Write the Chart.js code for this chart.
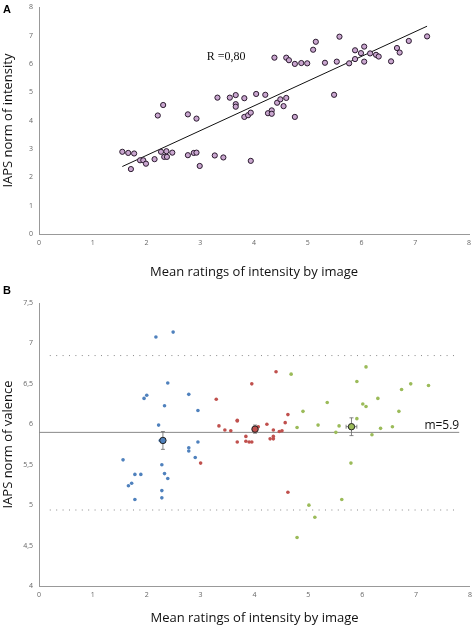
<!DOCTYPE html>
<html><head><meta charset="utf-8">
<script src="https://cdn.jsdelivr.net/npm/chart.js@4"></script>
<style>
html,body{margin:0;padding:0;background:#fff;width:474px;height:626px;overflow:hidden;font-family:"Open Sans",sans-serif}
#wa{position:absolute;left:0;top:0;width:474px;height:280px}
#wb{position:absolute;left:0;top:280px;width:474px;height:346px}
.lab{position:absolute;font:bold 11px "Liberation Sans",Arial,sans-serif;color:#000}
</style></head><body>
<div id="wa"><canvas id="ca"></canvas></div>
<div id="wb"><canvas id="cb"></canvas></div>
<div class="lab" style="left:3px;top:3px">A</div>
<div class="lab" style="left:3px;top:284px">B</div>
<script>
// ---- Panel A data ----
const aX=[1.55,1.66,1.71,1.77,1.88,1.94,1.99,2.15,2.21,2.27,2.31,2.33,2.37,2.38,2.48,2.77,2.77,2.88,2.93,2.93,2.99,3.27,3.32,3.43,3.55,3.66,3.66,3.66,3.82,3.82,3.89,3.94,3.94,4.04,4.21,4.26,4.33,4.33,4.38,4.43,4.49,4.55,4.6,4.6,4.65,4.76,4.76,4.88,4.99,5.1,5.15,5.32,5.49,5.54,5.59,5.77,5.88,5.88,5.99,6.05,6.05,6.16,6.27,6.32,6.55,6.66,6.71,6.88,7.22];
const aY=[2.9,2.86,2.29,2.84,2.6,2.6,2.48,2.64,4.18,2.9,4.55,2.72,2.92,2.72,2.87,4.22,2.78,2.86,2.87,4.07,2.4,2.77,4.81,2.7,4.81,4.9,4.58,4.49,4.79,4.13,4.19,2.58,4.28,4.94,4.91,4.26,4.36,4.24,6.22,4.63,4.75,4.51,6.22,4.8,6.13,6.0,4.13,6.03,6.02,6.5,6.78,6.04,4.91,6.08,6.96,6.02,6.17,6.48,6.38,6.61,6.08,6.37,6.32,6.26,6.09,6.56,6.4,6.81,6.97];
const trendX=[1.55,7.22];
const trendY=[2.38,7.33];
const aTicks=[0,1,2,3,4,5,6,7,8];
const rLabel="R =0,80";
// ---- Panel B data ----
const blueX=[1.56,1.66,1.72,1.78,1.78,1.89,1.95,2.0,2.17,2.22,2.25,2.28,2.28,2.28,2.33,2.33,2.39,2.39,2.49,2.78,2.78,2.78,2.9,2.95,2.95];
const blueY=[5.56,5.24,5.27,5.38,5.07,5.38,6.32,6.36,7.08,5.99,5.8,5.5,5.18,5.09,6.23,5.39,6.51,5.33,7.14,6.37,5.71,5.67,5.59,6.17,5.78];
const redX=[3.0,3.29,3.34,3.45,3.56,3.68,3.68,3.68,3.84,3.84,3.9,3.95,3.95,4.01,4.07,4.23,4.29,4.35,4.35,4.35,4.4,4.46,4.51,4.57,4.62,4.62];
const redY=[5.52,6.31,5.98,5.93,5.92,6.05,6.04,5.78,5.85,5.79,5.78,6.5,5.78,5.96,5.97,6.0,5.82,5.93,5.85,5.82,6.65,5.91,5.92,6.02,6.12,5.16];
const greenX=[4.68,4.79,4.79,4.9,5.01,5.12,5.18,5.35,5.51,5.57,5.62,5.79,5.9,5.9,6.01,6.07,6.07,6.18,6.29,6.34,6.56,6.68,6.73,6.9,7.23];
const greenY=[6.62,5.96,4.6,6.16,5.0,4.85,5.99,6.27,5.9,5.98,5.07,5.52,6.53,6.07,6.25,6.71,6.22,5.87,6.32,5.95,5.97,6.16,6.43,6.5,6.48];
const meanX=[2.3,4.01,5.8];
const meanY=[5.8,5.94,5.97];
const errX=[0.04,0.05,0.1];
const errY=[0.11,0.05,0.11];
const meanColors=['#4f81bd','#c0504d','#9bbb59'];
const meanLine=5.9, upperLine=6.85, lowerLine=4.94;
const bYTicks=[4,4.5,5,5.5,6,6.5,7,7.5];
const bXTicks=[0,1,2,3,4,5,6,7,8];
const mLabel="m=5.9";

const pts=(xs,ys)=>xs.map((x,i)=>({x,y:ys[i]}));
const tickFont={family:"'Open Sans',sans-serif",size:7};
const titleFont={family:"'Open Sans',sans-serif",size:13};
function axes(xmin,xmax,ymin,ymax,xt,yt,ytitle,xh,tp,fmt){
  return {
    x:{type:'linear',min:xmin,max:xmax,afterFit:s=>{s.height=xh;},
      afterBuildTicks:s=>{s.ticks=xt.map(v=>({value:v}));},
      grid:{display:false,drawTicks:true,tickLength:3,color:'#888'},border:{color:'#999'},
      ticks:{color:'#666',font:tickFont,padding:2,maxRotation:0,autoSkip:false},
      title:{display:true,text:'Mean ratings of intensity by image',color:'#111',font:titleFont,padding:{top:tp,bottom:0}}},
    y:{type:'linear',min:ymin,max:ymax,afterFit:s=>{s.width=39;},
      afterBuildTicks:s=>{s.ticks=yt.map(v=>({value:v}));},
      grid:{display:false,drawTicks:true,tickLength:3,color:'#888'},border:{color:'#999'},
      ticks:{color:'#666',font:tickFont,padding:3,callback:fmt,autoSkip:false},
      title:{display:true,text:ytitle,color:'#111',font:titleFont,padding:0}}
  };
}
const fmtComma=v=>String(v).replace('.',',');

// Panel A
const textA={id:'ta',afterDatasetsDraw(c){const x=c.scales.x,y=c.scales.y,ctx=c.ctx;
  ctx.save();ctx.font="12px 'Liberation Serif',serif";ctx.fillStyle='#111';ctx.textAlign='center';ctx.textBaseline='middle';
  ctx.fillText(rLabel,x.getPixelForValue(3.48),y.getPixelForValue(6.25));ctx.restore();}};
new Chart(document.getElementById('ca'),{
  type:'scatter',
  data:{datasets:[
    {data:pts(aX,aY),pointRadius:2.6,pointBackgroundColor:'#c9a6cf',pointBorderColor:'#2a1a2e',pointBorderWidth:1},
    {type:'line',data:pts(trendX,trendY),borderColor:'#111',borderWidth:1,pointRadius:0,fill:false}
  ]},
  options:{responsive:true,maintainAspectRatio:false,animation:false,
    layout:{padding:{top:4,right:4,left:0,bottom:0}},
    plugins:{legend:{display:false},tooltip:{enabled:false}},
    scales:axes(0,8,0,8,aTicks,aTicks,'IAPS norm of intensity',46,0,v=>v)},
  plugins:[textA]});

// Panel B
const refB={id:'rb',beforeDatasetsDraw(c){const x=c.scales.x,y=c.scales.y,ctx=c.ctx;ctx.save();
  ctx.strokeStyle='#888';ctx.lineWidth=1;
  let py=y.getPixelForValue(meanLine);ctx.beginPath();ctx.moveTo(x.getPixelForValue(0),py);ctx.lineTo(x.getPixelForValue(7.8),py);ctx.stroke();
  ctx.fillStyle='#888';
  [upperLine,lowerLine].forEach(v=>{const p=y.getPixelForValue(v);for(let xx=x.getPixelForValue(0.2);xx<=x.getPixelForValue(7.8);xx+=6.4){ctx.fillRect(xx,p-0.5,1,1);}});
  ctx.restore();},
 afterDatasetsDraw(c){const x=c.scales.x,y=c.scales.y,ctx=c.ctx;ctx.save();
  ctx.strokeStyle='#666';ctx.lineWidth=0.8;
  meanX.forEach((mx,i)=>{const px=x.getPixelForValue(mx),py=y.getPixelForValue(meanY[i]);
    const y1=y.getPixelForValue(meanY[i]+errY[i]),y2=y.getPixelForValue(meanY[i]-errY[i]);
    const x1=x.getPixelForValue(mx-errX[i]),x2=x.getPixelForValue(mx+errX[i]);
    ctx.beginPath();ctx.moveTo(px,y1);ctx.lineTo(px,y2);ctx.moveTo(px-2,y1);ctx.lineTo(px+2,y1);ctx.moveTo(px-2,y2);ctx.lineTo(px+2,y2);
    ctx.moveTo(x1,py);ctx.lineTo(x2,py);ctx.moveTo(x1,py-2);ctx.lineTo(x1,py+2);ctx.moveTo(x2,py-2);ctx.lineTo(x2,py+2);ctx.stroke();
    ctx.beginPath();ctx.arc(px,py,3.2,0,Math.PI*2);ctx.fillStyle=meanColors[i];ctx.fill();ctx.strokeStyle='#222';ctx.lineWidth=1;ctx.stroke();ctx.strokeStyle='#666';ctx.lineWidth=0.8;});
  ctx.font="12px 'Open Sans',sans-serif";ctx.fillStyle='#111';ctx.textAlign='right';ctx.textBaseline='middle';
  ctx.fillText(mLabel,x.getPixelForValue(7.8),y.getPixelForValue(5.99));
  ctx.restore();}};
new Chart(document.getElementById('cb'),{
  type:'scatter',
  data:{datasets:[
    {data:pts(blueX,blueY),pointRadius:1.8,pointBackgroundColor:'#4f81bd',pointBorderWidth:0},
    {data:pts(redX,redY),pointRadius:1.8,pointBackgroundColor:'#c0504d',pointBorderWidth:0},
    {data:pts(greenX,greenY),pointRadius:1.8,pointBackgroundColor:'#9bbb59',pointBorderWidth:0}
  ]},
  options:{responsive:true,maintainAspectRatio:false,animation:false,
    layout:{padding:{top:23,right:4,left:0,bottom:0}},
    plugins:{legend:{display:false},tooltip:{enabled:false}},
    scales:axes(0,8,4,7.5,bXTicks,bYTicks,'IAPS norm of valence',40,0,fmtComma)},
  plugins:[refB]});
</script>
</body></html>
